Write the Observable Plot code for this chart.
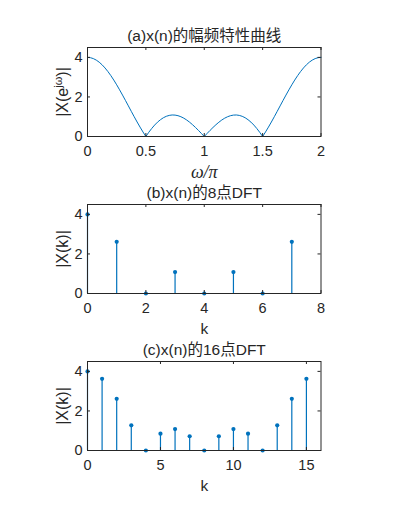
<!DOCTYPE html>
<html>
<head>
<meta charset="utf-8">
<script src="https://cdn.jsdelivr.net/npm/d3@7"></script>
<script src="https://cdn.jsdelivr.net/npm/@observablehq/plot@0.6"></script>
<style>
  html, body { margin: 0; padding: 0; background: white; }
  #chart { position: relative; width: 394px; height: 516px; }
  #chart svg { position: absolute; left: 0; top: 0; }
</style>
</head>
<body>
<div id="chart"></div>
<script>
// ---- data ----
const omega = [0,0.025,0.05,0.075,0.1,0.125,0.15,0.175,0.2,0.225,0.25,0.275,0.3,0.325,0.35,0.375,0.4,0.425,0.45,0.475,
  0.5,0.525,0.55,0.575,0.6,0.625,0.65,0.675,0.7,0.725,0.75,0.775,0.8,0.825,0.85,0.875,0.9,0.925,0.95,0.975,
  1,1.025,1.05,1.075,1.1,1.125,1.15,1.175,1.2,1.225,1.25,1.275,1.3,1.325,1.35,1.375,1.4,1.425,1.45,1.475,
  1.5,1.525,1.55,1.575,1.6,1.625,1.65,1.675,1.7,1.725,1.75,1.775,1.8,1.825,1.85,1.875,1.9,1.925,1.95,1.975,2];
const magnitude = [4.000,3.985,3.939,3.863,3.758,3.625,3.466,3.283,3.078,2.854,2.613,2.359,2.095,1.824,1.548,1.273,1.000,0.733,0.476,0.230,
  0,0.213,0.406,0.578,0.727,0.850,0.949,1.021,1.067,1.088,1.082,1.053,1.000,0.926,0.832,0.721,0.595,0.457,0.310,0.157,
  0,0.157,0.310,0.457,0.595,0.721,0.832,0.926,1.000,1.053,1.082,1.088,1.067,1.021,0.949,0.850,0.727,0.578,0.406,0.213,
  0,0.230,0.476,0.733,1.000,1.273,1.548,1.824,2.095,2.359,2.613,2.854,3.078,3.283,3.466,3.625,3.758,3.863,3.939,3.985,4.000];
const k8 = [0,1,2,3,4,5,6,7];
const dft8 = [4.000,2.613,0,1.082,0,1.082,0,2.613];
const k16 = [0,1,2,3,4,5,6,7,8,9,10,11,12,13,14,15];
const dft16 = [4.000,3.625,2.613,1.273,0,0.850,1.082,0.721,0,0.721,1.082,0.850,0,1.273,2.613,3.625];

const titles = ["(a)x(n)的幅频特性曲线", "(b)x(n)的8点DFT", "(c)x(n)的16点DFT"];
const xLabels = ["ω/π", "k", "k"];
const yLabels = ["|X(e^jω)|", "|X(k)|", "|X(k)|"];
const xTicksA = [0, 0.5, 1, 1.5, 2];
const xTicksB = [0, 2, 4, 6, 8];
const xTicksC = [0, 5, 10, 15];
const yTicks = [0, 2, 4];

// ---- layout ----
const W = 394, H = 516;
const ML = 87, MR = 73.5, PH = 89;
const BLUE = "#0072BD", INK = "#262626";
const FONT = "'Liberation Sans', Arial, 'Noto Sans CJK SC', sans-serif";
const frameW = W - ML - MR;
const fmt = d => String(d);

function panel({top, xDomain, xTicks, title, xlabel, ylabel, dataMarks, xlabelItalic}) {
  const bottom = H - top - PH;
  return Plot.plot({
    width: W, height: H,
    marginLeft: ML, marginRight: MR, marginTop: top, marginBottom: bottom,
    style: {background: "transparent", overflow: "visible", fontFamily: FONT, color: INK},
    x: {domain: xDomain},
    y: {domain: [0, 4.5]},
    marks: [
      ...dataMarks,
      Plot.frame({stroke: INK, strokeWidth: 1}),
      Plot.tickX(xTicks, {x: d => d, insetTop: PH - 3, stroke: INK}),
      Plot.tickX(xTicks, {x: d => d, insetBottom: PH - 3, stroke: INK}),
      Plot.tickY(yTicks, {y: d => d, insetRight: frameW - 3, stroke: INK}),
      Plot.tickY(yTicks, {y: d => d, insetLeft: frameW - 3, stroke: INK}),
      Plot.axisX({ticks: xTicks, tickFormat: fmt, tickSize: 0, tickPadding: 9, label: null, fontSize: 14.5, fill: INK}),
      Plot.axisY({ticks: yTicks, tickFormat: fmt, tickSize: 0, tickPadding: 5, label: null, fontSize: 14.5, fill: INK}),
      Plot.text([title], {frameAnchor: "top", dy: -11, lineAnchor: "middle", textAnchor: "middle", fontSize: 15.5, fill: INK}),
      Plot.text([xlabel], {frameAnchor: "bottom", dy: 36, lineAnchor: "middle", textAnchor: "middle",
        fontSize: xlabelItalic ? 18 : 15.5, fill: INK,
        fontStyle: xlabelItalic ? "italic" : "normal",
        fontFamily: xlabelItalic ? "'Liberation Serif', 'DejaVu Serif', serif" : FONT}),
      Plot.text([ylabel], {frameAnchor: "left", dx: -25, rotate: -90, lineAnchor: "middle", textAnchor: "middle",
        fontSize: 16, fill: INK, className: "ylab"})
    ]
  });
}

const dataA = omega.map((w, i) => ({w, m: magnitude[i]}));
const data8 = k8.map((k, i) => ({k, v: dft8[i]}));
const data16 = k16.map((k, i) => ({k, v: dft16[i]}));

const stem = (data) => [
  Plot.ruleX(data, {x: "k", y1: 0, y2: "v", stroke: BLUE, strokeWidth: 1.2}),
  Plot.dot(data, {x: "k", y: "v", r: 2.1, fill: BLUE, stroke: null})
];

const chart = document.getElementById("chart");
const pA = panel({top: 47, xDomain: [0, 2], xTicks: xTicksA, title: titles[0], xlabel: xLabels[0], ylabel: yLabels[0],
  xlabelItalic: true,
  dataMarks: [Plot.line(dataA, {x: "w", y: "m", stroke: BLUE, strokeWidth: 1})]});
const pB = panel({top: 204, xDomain: [0, 8], xTicks: xTicksB, title: titles[1], xlabel: xLabels[1], ylabel: yLabels[1],
  dataMarks: stem(data8)});
const pC = panel({top: 361, xDomain: [0, 16], xTicks: xTicksC, title: titles[2], xlabel: xLabels[2], ylabel: yLabels[2],
  dataMarks: stem(data16)});
chart.append(pA, pB, pC);

// superscript for |X(e^jω)|
pA.querySelectorAll(".ylab text").forEach(t => {
  if (t.textContent === yLabels[0]) {
    t.textContent = "";
    const ns = "http://www.w3.org/2000/svg";
    const a = document.createElementNS(ns, "tspan"); a.textContent = "|X(e";
    const b = document.createElementNS(ns, "tspan"); b.textContent = "jω";
    b.setAttribute("dy", "-6"); b.setAttribute("font-size", "11");
    const c = document.createElementNS(ns, "tspan"); c.textContent = ")|"; c.setAttribute("dy", "6");
    t.append(a, b, c);
  }
});
</script>
</body>
</html>
